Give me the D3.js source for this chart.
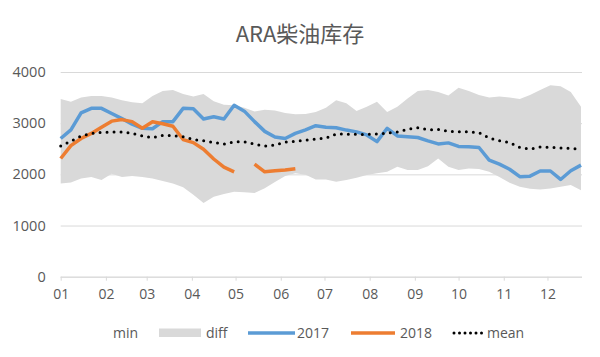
<!DOCTYPE html>
<html>
<head>
<meta charset="utf-8">
<script src="https://cdn.jsdelivr.net/npm/d3@7/dist/d3.min.js"></script>
<style>
  html, body { margin: 0; padding: 0; background: #fff; }
  svg { display: block; }
  text { font-family: "Open Sans", "Noto Sans CJK SC", sans-serif; fill: #595959; }
</style>
</head>
<body>
<svg id="chart" width="600" height="357"></svg>
<script>
// ---- data (weekly, 52 weeks) ----
const monthLabels = ["01","02","03","04","05","06","07","08","09","10","11","12"];
const yTicks = [0, 1000, 2000, 3000, 4000];

const minVals = [1820,1840,1920,1950,1890,2010,1950,1970,1950,1920,1870,1820,1750,1600,1440,1560,1615,1660,1650,1635,1730,1850,1970,2020,1990,1900,1900,1855,1890,1935,1985,2020,2050,2150,2085,2085,2160,2310,2150,2085,2115,2105,2050,1950,1835,1760,1720,1705,1725,1760,1790,1690];
const diffVals = [1650,1580,1580,1580,1640,1490,1500,1440,1440,1610,1760,1830,1820,1920,2130,1870,1745,1690,1650,1595,1530,1400,1230,1155,1190,1320,1400,1595,1500,1305,1335,1400,1170,1170,1395,1545,1490,1300,1390,1605,1515,1445,1450,1570,1665,1710,1830,1945,2015,1960,1820,1630];
const vals2017 = [2700,2870,3200,3290,3290,3190,3090,2980,2900,2890,3030,3030,3290,3280,3080,3125,3080,3350,3235,3030,2840,2730,2700,2800,2870,2950,2920,2910,2865,2830,2770,2640,2900,2750,2735,2720,2655,2595,2615,2545,2540,2525,2280,2200,2100,1955,1965,2065,2065,1900,2070,2180];
const vals2018 = [2310,2560,2700,2800,2920,3040,3070,3030,2900,3027,2990,2940,2680,2620,2490,2300,2140,2050,null,2200,2050,2070,2085,2110];
const meanVals = [2555,2650,2748,2800,2820,2826,2826,2800,2750,2715,2760,2760,2734,2680,2656,2624,2592,2637,2637,2592,2553,2575,2630,2645,2670,2690,2710,2787,2787,2781,2781,2787,2807,2826,2879,2910,2871,2879,2839,2832,2832,2813,2709,2656,2624,2527,2494,2533,2527,2514,2507,2494];

const colors = { diff: "#D9D9D9", y2017: "#5B9BD5", y2018: "#ED7D31", mean: "#000000", grid: "#D9D9D9", text: "#595959" };

// ---- dates ----
const startDate = new Date(2017, 0, 1);
const weekDates = minVals.map((_, i) => d3.timeDay.offset(startDate, 7 * i));
const monthStarts = monthLabels.map((_, i) => new Date(2017, i, 1));

// ---- layout ----
const svg = d3.select("#chart");
const pLeft = 60.7, pRight = 581, pTop = 72, pBottom = 276.7;

const x = d3.scaleTime().domain([startDate, weekDates[weekDates.length - 1]]).range([pLeft, pRight]);
const y = d3.scaleLinear().domain([0, 4000]).range([pBottom, pTop]);

// title
svg.append("text")
  .attr("x", 300).attr("y", 42)
  .attr("text-anchor", "middle")
  .style("font-family", '"Noto Sans CJK SC", sans-serif')
  .style("font-size", "22px")
  .text("ARA柴油库存");

// gridlines + y labels
const yAxis = svg.append("g")
  .attr("transform", `translate(${pLeft},0)`)
  .call(d3.axisLeft(y).tickValues(yTicks).tickSize(-(pRight + 1 - pLeft)).tickPadding(15).tickFormat(d3.format("d")));
yAxis.select(".domain").remove();
yAxis.selectAll("line").attr("stroke", colors.grid).attr("stroke-width", 1);
yAxis.selectAll("text").style("font-size", "14.5px").attr("fill", colors.text);

// area (min to min+diff)
const area = d3.area()
  .x((d, i) => x(weekDates[i]))
  .y0((d, i) => y(minVals[i]))
  .y1((d, i) => y(minVals[i] + diffVals[i]));
svg.append("path").datum(diffVals).attr("d", area).attr("fill", colors.diff);

// x axis
const xAxis = svg.append("g")
  .attr("transform", `translate(0,${pBottom})`)
  .call(d3.axisBottom(x).tickValues(monthStarts).tickSize(4).tickPadding(8)
    .tickFormat((d, i) => monthLabels[i]));
xAxis.select(".domain").attr("stroke", colors.grid).attr("d", `M${pLeft},0.5H${pRight + 1}`);
xAxis.selectAll("line").attr("stroke", colors.grid);
xAxis.selectAll("text").style("font-size", "14px").attr("fill", colors.text);

// lines
const line = d3.line()
  .defined(d => d != null)
  .x((d, i) => x(weekDates[i]))
  .y(d => y(d));

svg.append("path").datum(vals2017).attr("d", line)
  .attr("fill", "none").attr("stroke", colors.y2017).attr("stroke-width", 3.5)
  .attr("stroke-linejoin", "round");
svg.append("path").datum(vals2018).attr("d", line)
  .attr("fill", "none").attr("stroke", colors.y2018).attr("stroke-width", 3.5)
  .attr("stroke-linejoin", "round");
svg.append("path").datum(meanVals).attr("d", line)
  .attr("fill", "none").attr("stroke", colors.mean).attr("stroke-width", 3)
  .attr("stroke-linecap", "round").attr("stroke-dasharray", "0 7");

// legend
const ly = 333;
const leg = svg.append("g").style("font-size", "14px");
leg.append("text").attr("x", 113).attr("y", ly).attr("dy", "0.35em").text("min");
leg.append("rect").attr("x", 159).attr("y", ly - 4.5).attr("width", 42).attr("height", 8.5).attr("fill", colors.diff);
leg.append("text").attr("x", 206).attr("y", ly).attr("dy", "0.35em").text("diff");
leg.append("line").attr("x1", 248).attr("x2", 295).attr("y1", ly).attr("y2", ly)
  .attr("stroke", colors.y2017).attr("stroke-width", 3.5);
leg.append("text").attr("x", 297).attr("y", ly).attr("dy", "0.35em").text("2017");
leg.append("line").attr("x1", 351).attr("x2", 395).attr("y1", ly).attr("y2", ly)
  .attr("stroke", colors.y2018).attr("stroke-width", 3.5);
leg.append("text").attr("x", 400).attr("y", ly).attr("dy", "0.35em").text("2018");
leg.append("line").attr("x1", 454).attr("x2", 482).attr("y1", ly).attr("y2", ly)
  .attr("stroke", colors.mean).attr("stroke-width", 3).attr("stroke-linecap", "round").attr("stroke-dasharray", "0 5.5");
leg.append("text").attr("x", 487).attr("y", ly).attr("dy", "0.35em").text("mean");
</script>
</body>
</html>
